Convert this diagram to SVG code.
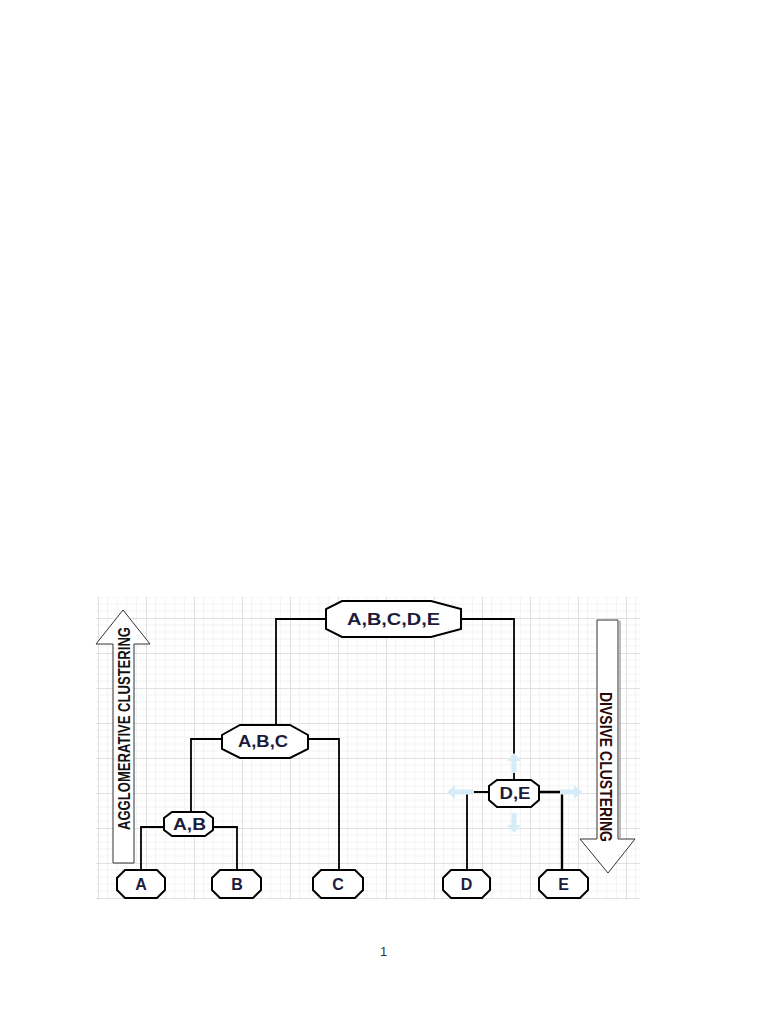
<svg xmlns="http://www.w3.org/2000/svg" width="768" height="1024" viewBox="0 0 768 1024">
<defs>
<pattern id="grid" patternUnits="userSpaceOnUse" x="98" y="618" width="48" height="35">
<g stroke="#f3f3f3" stroke-width="1">
<line x1="9.6" y1="0" x2="9.6" y2="35"/><line x1="19.2" y1="0" x2="19.2" y2="35"/><line x1="28.8" y1="0" x2="28.8" y2="35"/><line x1="38.4" y1="0" x2="38.4" y2="35"/>
<line x1="0" y1="7" x2="48" y2="7"/><line x1="0" y1="14" x2="48" y2="14"/><line x1="0" y1="21" x2="48" y2="21"/><line x1="0" y1="28" x2="48" y2="28"/>
</g>
<g stroke="#e0e0e0" stroke-width="1">
<line x1="0.5" y1="0" x2="0.5" y2="35"/><line x1="0" y1="0.5" x2="48" y2="0.5"/>
</g>
</pattern>
<style>
.node{fill:#fff;stroke:#000;stroke-width:2;stroke-linejoin:miter}
.lbl{font-family:"Liberation Sans",Arial,sans-serif;font-weight:bold;font-size:16px;fill:#1c1c3a;text-anchor:middle}
.conn{fill:none;stroke:#000;stroke-width:1.8}
.blk{fill:#fff;stroke:#333;stroke-width:1}
.side{font-family:"Liberation Sans",Arial,sans-serif;font-weight:bold;font-size:17px;text-anchor:middle}
.hint{fill:#d6ecf9}
</style>
</defs>
<rect x="0" y="0" width="768" height="1024" fill="#fff"/>
<rect x="96" y="597" width="544" height="303" fill="url(#grid)"/>

<g id="connectors">
<polyline class="conn" points="326,619 276,619 276,725"/>
<polyline class="conn" points="461,619 514,619 514,780"/>
<polyline class="conn" points="222,739 191,739 191,812"/>
<polyline class="conn" points="308,739 339,739 339,870"/>
<polyline class="conn" points="164,827 141,827 141,870"/>
<polyline class="conn" points="213,827 237,827 237,870"/>
<polyline class="conn" points="489,792 467,792 467,870"/>
<polyline class="conn" points="539,792 562,792 562,870" style="stroke-width:2.4"/>
</g>

<g id="hint-arrows">
<polygon class="hint" points="514,753 521,761 516.5,761 516.5,773 511.5,773 511.5,761 507,761"/>
<polygon class="hint" points="514,833 521,825 516.5,825 516.5,813 511.5,813 511.5,825 507,825"/>
<polygon class="hint" points="447,792 455,785 455,789.5 474,789.5 474,794.5 455,794.5 455,799"/>
<polygon class="hint" points="582,792 574,785 574,789.5 560,789.5 560,794.5 574,794.5 574,799"/>
</g>

<g id="agglomerative">
<polygon class="blk" points="113,863 134,863 134,644 150,644 123,610 96,644 113,644"/>
<text class="side" fill="#111" transform="translate(129.5,728.5) rotate(-90)" x="0" y="0" textLength="203" lengthAdjust="spacingAndGlyphs">AGGLOMERATIVE CLUSTERING</text>
</g>

<g id="divisive">
<polygon class="blk" points="597,620 618,620 618,839 635,839 608,873 580,839 597,839"/>
<line x1="620" y1="621" x2="620" y2="839" stroke="#aaa" stroke-width="1.5"/>
<text class="side" fill="#2a0808" transform="translate(599.5,767) rotate(90)" x="0" y="0" textLength="150" lengthAdjust="spacingAndGlyphs">DIVSIVE CLUSTERING</text>
</g>

<g id="node-abcde">
<polygon class="node" points="342,601 431,601 461,609 461,629 431,637 342,637 326,629 326,609"/>
<text class="lbl" x="393.5" y="625" textLength="93" lengthAdjust="spacingAndGlyphs">A,B,C,D,E</text>
</g>
<g id="node-abc">
<polygon class="node" points="240,725 290,725 308,735 308,749 290,758 240,758 222,749 222,735"/>
<text class="lbl" x="263" y="747" textLength="50" lengthAdjust="spacingAndGlyphs">A,B,C</text>
</g>
<g id="node-ab">
<polygon class="node" points="172,812 205,812 213,818 213,830 205,836 172,836 164,830 164,818"/>
<text class="lbl" x="189.5" y="830" textLength="33" lengthAdjust="spacingAndGlyphs">A,B</text>
</g>
<g id="node-de">
<polygon class="node" points="497,780 531,780 539,786 539,800 531,807 497,807 489,800 489,786"/>
<text class="lbl" x="515" y="799" textLength="31" lengthAdjust="spacingAndGlyphs">D,E</text>
</g>
<g id="node-a">
<polygon class="node" points="125,870 157,870 165,878 165,890 157,898 125,898 117,890 117,878"/>
<text class="lbl" x="141" y="890">A</text>
</g>
<g id="node-b">
<polygon class="node" points="220,870 253,870 261,878 261,890 253,898 220,898 212,890 212,878"/>
<text class="lbl" x="237" y="890">B</text>
</g>
<g id="node-c">
<polygon class="node" points="321,870 355,870 363,878 363,890 355,898 321,898 313,890 313,878"/>
<text class="lbl" x="338" y="890">C</text>
</g>
<g id="node-d">
<polygon class="node" points="451,870 482,870 490,878 490,890 482,898 451,898 443,890 443,878"/>
<text class="lbl" x="466.5" y="890">D</text>
</g>
<g id="node-e">
<polygon class="node" points="547,870 580,870 588,878 588,890 580,898 547,898 539,890 539,878"/>
<text class="lbl" x="563.5" y="890">E</text>
</g>

<text x="383.5" y="956" font-family="Liberation Sans,Arial,sans-serif" font-size="13" fill="#333" text-anchor="middle">1</text>
</svg>
